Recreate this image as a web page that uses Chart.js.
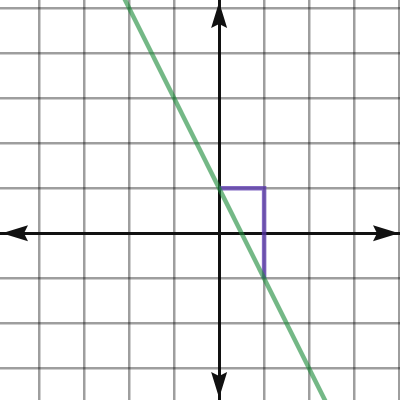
<!DOCTYPE html>
<html>
<head>
<meta charset="utf-8">
<script src="https://cdn.jsdelivr.net/npm/chart.js@4"></script>
<style>
  html, body { margin: 0; padding: 0; background: #fff; }
  #plot { display: block; }
</style>
</head>
<body>
<canvas id="plot" width="400" height="400"></canvas>
<script>
'use strict';

// grid values
const xTicks = [ -4, -3, -2, -1, 0, 1, 2, 3, 4 ];
const yTicks = [ -3, -2, -1, 0, 1, 2, 3, 4, 5 ];

// green line y = -2x + 1, two points beyond the view
const lineX = [ -3, 3 ];
const lineY = [ 7, -5 ];

// purple rise/run step
const stepX = [ 0, 1, 1 ];
const stepY = [ 1, 1, -1 ];

const toPoints = ( xs, ys ) => xs.map( ( x, i ) => ( { x: x, y: ys[ i ] } ) );

const gridColor = ( ctx ) => ctx.tick && ctx.tick.value === 0 ? '#111' : 'rgba(0,0,0,0.38)';
const gridWidth = ( ctx ) => ctx.tick && ctx.tick.value === 0 ? 3 : 2.5;

// arrowheads at both ends of each axis
const arrows = {
	id: 'arrows',
	beforeDatasetsDraw: function ( chart ) {
		const ctx = chart.ctx;
		const area = chart.chartArea;
		const x0 = chart.scales.x.getPixelForValue( 0 );
		const y0 = chart.scales.y.getPixelForValue( 0 );
		const len = 26, half = 8, notch = 4;

		const head = ( tx, ty, dx, dy ) => {
			// dx, dy: unit direction the arrow points to
			const px = -dy, py = dx;
			const bx = tx - dx * len, by = ty - dy * len;
			ctx.beginPath();
			ctx.moveTo( tx, ty );
			ctx.lineTo( bx + px * half, by + py * half );
			ctx.lineTo( bx + dx * notch, by + dy * notch );
			ctx.lineTo( bx - px * half, by - py * half );
			ctx.closePath();
			ctx.fill();
		};

		ctx.save();
		ctx.fillStyle = '#111';
		head( area.left + 2, y0, -1, 0 );
		head( area.right - 1, y0, 1, 0 );
		head( x0, area.top + 2, 0, -1 );
		head( x0, area.bottom - 2, 0, 1 );
		ctx.restore();
	},
};

const chart = new Chart( document.getElementById( 'plot' ), {
	type: 'scatter',
	data: {
		datasets: [
			{
				data: toPoints( lineX, lineY ),
				showLine: true,
				borderColor: 'rgba(30,140,60,0.62)',
				borderWidth: 4.5,
				pointRadius: 0,
			},
			{
				data: toPoints( stepX, stepY ),
				showLine: true,
				borderColor: 'rgba(90,55,175,0.75)',
				borderWidth: 4.5,
				borderJoinStyle: 'miter',
				pointRadius: 0,
			},
		],
	},
	options: {
		responsive: false,
		animation: false,
		devicePixelRatio: 1,
		layout: { padding: 0 },
		plugins: {
			legend: { display: false },
			tooltip: { enabled: false },
		},
		scales: {
			x: {
				type: 'linear',
				min: -4.87,
				max: 4.02,
				afterBuildTicks: ( scale ) => { scale.ticks = xTicks.map( v => ( { value: v } ) ); },
				ticks: { display: false },
				border: { display: false },
				grid: { drawTicks: false, color: gridColor, lineWidth: gridWidth },
			},
			y: {
				type: 'linear',
				min: -3.70,
				max: 5.18,
				afterBuildTicks: ( scale ) => { scale.ticks = yTicks.map( v => ( { value: v } ) ); },
				ticks: { display: false },
				border: { display: false },
				grid: { drawTicks: false, color: gridColor, lineWidth: gridWidth },
			},
		},
	},
	plugins: [ arrows ],
} );
</script>
</body>
</html>
